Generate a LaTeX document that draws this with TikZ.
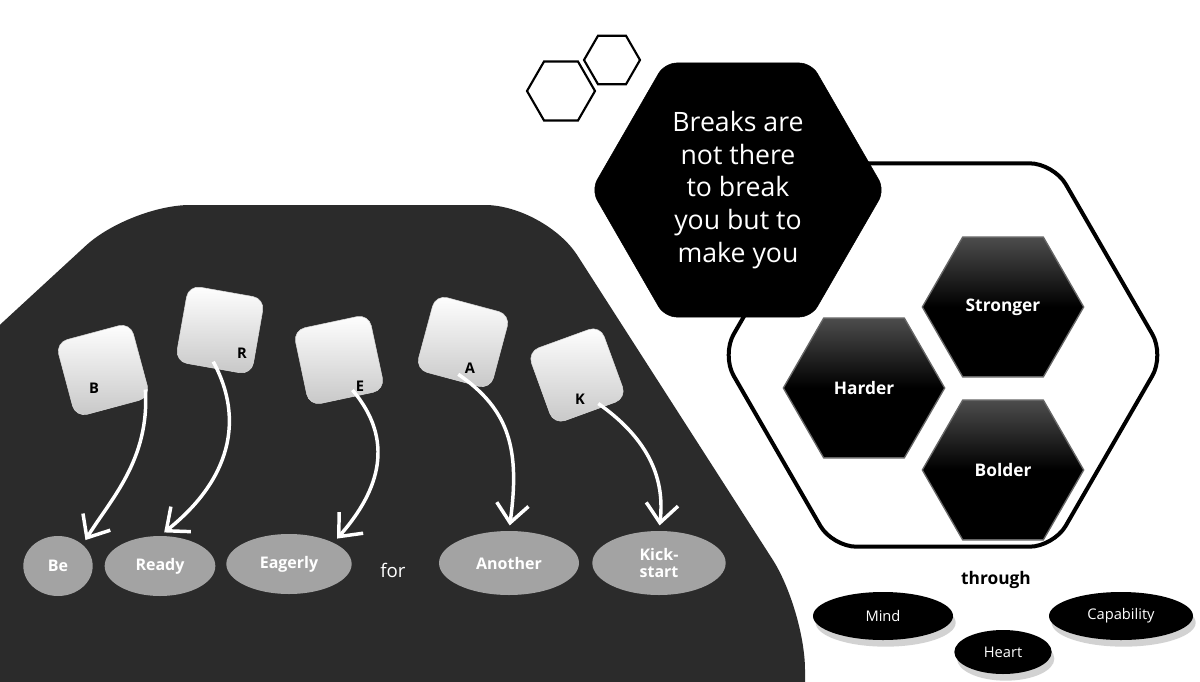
\documentclass[tikz,border=0pt]{standalone}
\usepackage{fontspec}
\setmainfont{Open Sans}
\usetikzlibrary{shapes.geometric,arrows.meta,shadows}
\definecolor{darkbg}{HTML}{2B2B2B}
\definecolor{pill}{HTML}{A3A3A3}
\begin{document}
\begin{tikzpicture}[x=0.75pt,y=-0.75pt,
  hexo/.style={regular polygon,regular polygon sides=6,inner sep=0pt,draw=black},
  hexb/.style={regular polygon,regular polygon sides=6,inner sep=0pt,minimum size=121pt,
     top color=black!70,bottom color=black,middle color=black,draw=black!60,line width=1pt,
     text=white,font=\bfseries\fontsize{13}{15}\selectfont},
  die/.style={rectangle,rounded corners=9pt,minimum size=58pt,inner sep=0pt,
     top color=white,bottom color=black!22,draw=black!15},
  lett/.style={font=\bfseries\fontsize{11}{12}\selectfont},
  pillnode/.style={ellipse,fill=pill,text=white,inner sep=0pt,font=\bfseries\fontsize{12}{13}\selectfont,align=center},
  blk/.style={ellipse,fill=black,text=white,inner sep=0pt,font=\fontsize{11}{12}\selectfont,
     drop shadow={shadow xshift=2pt,shadow yshift=-5pt,fill=black!35}},
  arr/.style={white,line width=2.6pt,-{Straight Barb[length=14pt,width=24pt,line width=2.6pt]},shorten >=4pt}]
\useasboundingbox (0,0) rectangle (1200,682);
\fill[white] (0,0) rectangle (1200,682);
% dark panel
\fill[darkbg,rounded corners=45pt] (-60,380) -- (130,205) -- (545,205) -- (805,610) -- (805,760) -- (-60,760) -- cycle;
% outline hexagons
\node[hexo,minimum size=51pt,line width=1.6pt,fill=white] (h1) at (561,91) {};
\node[hexo,minimum size=42pt,line width=1.6pt,fill=white] (h2) at (612,60) {};
% big outline hexagon
\node[hexo,minimum size=332pt,line width=3pt,rounded corners=18pt,fill=white] (big) at (943,355) {};
% black hexagon
\node[hexo,minimum size=220pt,fill=black,rounded corners=9pt,text=white,align=center,
  font=\fontsize{20}{24.5}\selectfont] (quote) at (738,190)
  {Breaks are\\not there\\to break\\you but to\\make you};
\node[hexb] (stronger) at (1003,307) {Stronger};
\node[hexb] (harder) at (864,388) {Harder};
\node[hexb] (bolder) at (1003,470) {Bolder};
% pills
\node[pillnode,minimum width=52pt,minimum height=45pt] (be) at (58,566) {Be};
\node[pillnode,minimum width=83pt,minimum height=45pt] (ready) at (160,566) {Ready};
\node[pillnode,minimum width=94pt,minimum height=45pt] (eagerly) at (289,564) {Eagerly};
\node[text=white,font=\fontsize{14}{15}\selectfont] (for) at (393,570) {for};
\node[pillnode,minimum width=105pt,minimum height=48pt] (another) at (509,563) {Another};
\node[pillnode,minimum width=100pt,minimum height=48pt] (kick) at (659,563) {Kick-\\start};
% dice
\node[die,rotate=15] (dB) at (103,370) {};
\node[lett] (lB) at (94,388) {B};
\node[die,rotate=-10] (dR) at (220,330) {};
\node[lett] (lR) at (242,353) {R};
\node[die,rotate=12] (dE) at (339,360) {};
\node[lett] (lE) at (360,386) {E};
\node[die,rotate=-15] (dA) at (463,342) {};
\node[lett] (lA) at (470,368) {A};
\node[die,rotate=20] (dK) at (577,375) {};
\node[lett] (lK) at (580,399) {K};
% arrows
\draw[arr] ([xshift=-4pt,yshift=6pt]dB.south east) .. controls (150,460) and (110,500) .. (be.north east);
\draw[arr] ([yshift=5pt]dR.south) .. controls (245,420) and (230,480) .. (ready.north);
\draw[arr] ([xshift=4pt,yshift=6pt]dE.south) .. controls (395,440) and (380,490) .. (eagerly.north east);
\draw[arr] ([xshift=4pt,yshift=4pt]dA.south) .. controls (510,410) and (520,450) .. (another.north);
\draw[arr] ([xshift=6pt,yshift=6pt]dK.south) .. controls (650,440) and (665,480) .. (kick.north);
% through
\node[font=\bfseries\fontsize{13}{14}\selectfont] (through) at (996,580) {through};
\node[blk,minimum width=105pt,minimum height=36pt] (mind) at (883,616) {Mind};
\node[blk,minimum width=73pt,minimum height=33pt] (heart) at (1003,652) {Heart};
\node[blk,minimum width=108pt,minimum height=36pt] (cap) at (1121,616) {Capability};
\end{tikzpicture}
\end{document}
